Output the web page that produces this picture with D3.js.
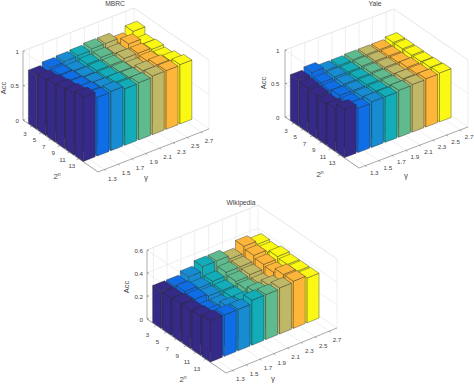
<!DOCTYPE html>
<html>
<head>
<meta charset="utf-8">
<script src="https://cdn.jsdelivr.net/npm/d3@7"></script>
<style>
  html, body { margin: 0; background: #fff; }
  text { font-family: "Liberation Sans", Arial, sans-serif; fill: #444; }
</style>
</head>
<body>
<div id="grafica"></div>
<script>
const gammas = ['1.3', '1.5', '1.7', '1.9', '2.1', '2.3', '2.5', '2.7']
const ns = ['3', '5', '7', '9', '11', '13']
const colores = ['#352a87', '#0f6ee6', '#178cd2', '#12adb8', '#5fbb8e', '#bfb866', '#fdb63a', '#fbf914']

// one row per 2^n, one value per gamma
const mbrcAcc = [
  [0.77, 0.81, 0.82, 0.83, 0.85, 0.85, 0.78, 0.87],
  [0.80, 0.80, 0.78, 0.80, 0.82, 0.80, 0.86, 0.78],
  [0.83, 0.81, 0.79, 0.80, 0.80, 0.82, 0.82, 0.80],
  [0.86, 0.82, 0.80, 0.80, 0.80, 0.78, 0.80, 0.78],
  [0.89, 0.84, 0.82, 0.82, 0.81, 0.83, 0.84, 0.82],
  [0.93, 0.85, 0.86, 0.82, 0.83, 0.85, 0.85, 0.86]
]
const yaleAcc = [
  [0.68, 0.72, 0.67, 0.67, 0.68, 0.68, 0.68, 0.71],
  [0.66, 0.66, 0.67, 0.67, 0.68, 0.68, 0.68, 0.71],
  [0.64, 0.64, 0.66, 0.67, 0.68, 0.68, 0.68, 0.71],
  [0.62, 0.66, 0.66, 0.67, 0.68, 0.68, 0.70, 0.71],
  [0.64, 0.64, 0.66, 0.67, 0.68, 0.70, 0.70, 0.72],
  [0.72, 0.66, 0.68, 0.68, 0.70, 0.71, 0.72, 0.73]
]
const wikiAcc = [
  [0.32, 0.32, 0.35, 0.39, 0.39, 0.36, 0.42, 0.39],
  [0.32, 0.33, 0.31, 0.32, 0.35, 0.35, 0.40, 0.38],
  [0.33, 0.32, 0.30, 0.30, 0.33, 0.34, 0.38, 0.40],
  [0.33, 0.28, 0.28, 0.30, 0.32, 0.32, 0.37, 0.39],
  [0.34, 0.30, 0.32, 0.32, 0.35, 0.36, 0.41, 0.39],
  [0.36, 0.36, 0.36, 0.39, 0.39, 0.40, 0.41, 0.39]
]

const paneles = [
  { titulo: 'MBRC', acc: mbrcAcc, zMax: 1, zTicks: [0, 0.5, 1], izq: [23, 120], frente: [98, 172], der: [209, 129], zPx: 69,
    tituloPos: [115, 6], accPos: [6, 88], gammaPos: [146, 180], nPos: [57, 179], offG: [8, 11], offN: [-7, 9.5], offZ: -4 },
  { titulo: 'Yale', acc: yaleAcc, zMax: 1, zTicks: [0, 0.5, 1], izq: [285, 117], frente: [359, 168], der: [468, 127], zPx: 67,
    tituloPos: [375, 6], accPos: [266, 83], gammaPos: [406, 178], nPos: [320, 177], offG: [9, 9], offN: [-8, 10], offZ: -5.5 },
  { titulo: 'Wikipedia', acc: wikiAcc, zMax: 0.6, zTicks: [0, 0.2, 0.4, 0.6], izq: [147, 319], frente: [226, 373], der: [337, 328], zPx: 69,
    tituloPos: [241, 205], accPos: [129, 287], gammaPos: [273, 381], nPos: [183, 382], offG: [8, 11], offN: [-9, 12], offZ: -4 }
]

const svg = d3
  .select('#grafica')
  .append('svg')
  .attr('width', 474)
  .attr('height', 384)

const colorGamma = d3.scaleOrdinal().domain(gammas).range(colores)

// fraccion del eje del suelo, las barras no llenan todo el eje de n
const escG = d3.scaleBand().domain(gammas).range([0, 0.985]).paddingInner(0.14).paddingOuter(0.03)
const escN = d3.scaleBand().domain(ns).range([0.0625, 0.8025]).paddingInner(0.14).paddingOuter(0.03)

const linea = d3.line()

function dibuja(p) {
  const g = svg.append('g')
  const vecN = [p.frente[0] - p.izq[0], p.frente[1] - p.izq[1]]
  const vecG = [p.der[0] - p.frente[0], p.der[1] - p.frente[1]]
  const z = d3.scaleLinear().domain([0, p.zMax]).range([0, p.zPx])

  const pr = (fn, fg, val) => [
    p.izq[0] + vecN[0] * fn + vecG[0] * fg,
    p.izq[1] + vecN[1] * fn + vecG[1] * fg - z(val)
  ]

  // paredes y rejilla
  const rej = g.append('g').attr('fill', 'none').attr('stroke', '#e4e4e4').attr('stroke-width', 0.6)
  p.zTicks.forEach((t) => {
    rej.append('path').attr('d', linea([pr(0, 0, t), pr(0, 1, t), pr(1, 1, t)]))
    rej.append('path').attr('d', linea([pr(0, 0, t), pr(1, 0, t)]))
  })
  gammas.forEach((c) => {
    const f = escG(c) + escG.bandwidth() / 2
    rej.append('path').attr('d', linea([pr(1, f, 0), pr(0, f, 0), pr(0, f, p.zMax)]))
  })
  ns.forEach((c) => {
    const f = escN(c) + escN.bandwidth() / 2
    rej.append('path').attr('d', linea([pr(f, 0, 0), pr(f, 1, 0), pr(0, 1, 0)]))
  })
  rej.append('path').attr('d', linea([pr(0, 1, 0), pr(0, 1, p.zMax)]))
  rej.append('path').attr('d', linea([pr(1, 1, 0), pr(1, 1, p.zMax)]))
  rej.append('path').attr('d', linea([pr(0, 0, p.zMax), pr(0, 1, p.zMax), pr(1, 1, p.zMax)]))

  // ejes del suelo
  const ejes = g.append('g').attr('fill', 'none').attr('stroke', '#555').attr('stroke-width', 0.5)
  ejes.append('path').attr('d', linea([pr(0, 0, 0), pr(1, 0, 0), pr(1, 1, 0)]))
  ejes.append('path').attr('d', linea([pr(0, 0, 0), pr(0, 0, p.zMax)]))

  gammas.forEach((c) => {
    const f = escG(c) + escG.bandwidth() / 2
    const b = pr(1, f, 0)
    ejes.append('path').attr('d', linea([b, [b[0] + vecN[0] * 0.02, b[1] + vecN[1] * 0.02]]))
    g.append('text').attr('x', b[0] + p.offG[0]).attr('y', b[1] + p.offG[1])
      .attr('text-anchor', 'middle').attr('font-size', 6.2).text(c)
  })
  ns.forEach((c) => {
    const f = escN(c) + escN.bandwidth() / 2
    const b = pr(f, 0, 0)
    ejes.append('path').attr('d', linea([b, [b[0] - vecG[0] * 0.02, b[1] - vecG[1] * 0.02]]))
    g.append('text').attr('x', b[0] + p.offN[0]).attr('y', b[1] + p.offN[1])
      .attr('text-anchor', 'middle').attr('font-size', 6.2).text(c)
  })
  p.zTicks.forEach((t) => {
    const b = pr(0, 0, t)
    ejes.append('path').attr('d', linea([b, [b[0] + 2, b[1]]]))
    g.append('text').attr('x', b[0] + p.offZ).attr('y', b[1] + 2.5)
      .attr('text-anchor', 'end').attr('font-size', 6.2).text(t)
  })

  // barras, de atras hacia delante
  const celdas = []
  ns.forEach((n, i) => {
    for (let j = gammas.length - 1; j >= 0; j--) {
      celdas.push({ n: n, gamma: gammas[j], acc: p.acc[i][j] })
    }
  })

  const barras = g.selectAll('g.barra')
    .data(celdas)
    .enter()
    .append('g')
    .classed('barra', true)
    .attr('fill', (d) => colorGamma(d.gamma))
    .attr('stroke', '#2b2b2b')
    .attr('stroke-width', 0.4)
    .attr('stroke-linejoin', 'round')

  const esquinas = (d) => ({
    n0: escN(d.n), n1: escN(d.n) + escN.bandwidth(),
    g0: escG(d.gamma), g1: escG(d.gamma) + escG.bandwidth()
  })

  barras.append('path').attr('d', (d) => {
    const e = esquinas(d)
    return linea([pr(e.n0, e.g0, 0), pr(e.n1, e.g0, 0), pr(e.n1, e.g0, d.acc), pr(e.n0, e.g0, d.acc)]) + 'Z'
  })
  barras.append('path').attr('d', (d) => {
    const e = esquinas(d)
    return linea([pr(e.n1, e.g0, 0), pr(e.n1, e.g1, 0), pr(e.n1, e.g1, d.acc), pr(e.n1, e.g0, d.acc)]) + 'Z'
  })
  barras.append('path').attr('d', (d) => {
    const e = esquinas(d)
    return linea([pr(e.n0, e.g0, d.acc), pr(e.n1, e.g0, d.acc), pr(e.n1, e.g1, d.acc), pr(e.n0, e.g1, d.acc)]) + 'Z'
  })

  // textos
  g.append('text').attr('x', p.tituloPos[0]).attr('y', p.tituloPos[1])
    .attr('text-anchor', 'middle').attr('font-size', 6.7).text(p.titulo)
  g.append('text').attr('transform', `translate(${p.accPos[0]},${p.accPos[1]}) rotate(-90)`)
    .attr('text-anchor', 'middle').attr('font-size', 7.5).text('Acc')
  g.append('text').attr('x', p.gammaPos[0]).attr('y', p.gammaPos[1])
    .attr('text-anchor', 'middle').attr('font-size', 8).text('γ')
  const t2 = g.append('text').attr('x', p.nPos[0]).attr('y', p.nPos[1])
    .attr('text-anchor', 'middle').attr('font-size', 8).text('2')
  t2.append('tspan').attr('font-size', 5).attr('dy', -3).text('n')
}

paneles.forEach(dibuja)
</script>
</body>
</html>
